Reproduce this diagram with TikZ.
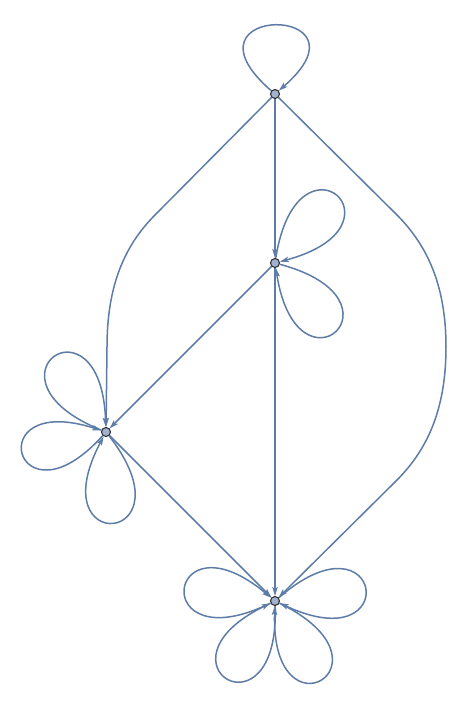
\documentclass[tikz,border=0pt]{standalone}
\usetikzlibrary{arrows.meta,backgrounds}
\definecolor{edgec}{RGB}{94,124,168}
\definecolor{vfill}{RGB}{160,178,205}
\definecolor{vdraw}{RGB}{50,50,55}
\tikzset{
  vert/.style={circle,inner sep=0pt,minimum size=9pt,fill=vfill,draw=vdraw,line width=1.1pt},
  edge/.style={draw=edgec,line width=1.5pt,-{Stealth[length=9pt,width=5.5pt,inset=2pt]}},
  petal/.style={edge,distance=138pt},
}
\begin{document}
\begin{tikzpicture}[x=1pt,y=1pt]
\useasboundingbox (0,0) rectangle (457,705);
\node[vert] (A) at (275,611) {};
\node[vert] (B) at (275,442) {};
\node[vert] (C) at (106,273) {};
\node[vert] (D) at (275,104) {};
\coordinate (c1) at (155,490);
\coordinate (c2) at (107,358);
\coordinate (d1) at (397,490);
\coordinate (d2) at (446,358);
\coordinate (d3) at (397,225);
\begin{pgfonlayer}{background}
% straight edges
\draw[edge] (A) -- (B);
\draw[edge] (B) -- (C);
\draw[edge] (B) -- (D);
\draw[edge] (C) -- (D);
% curved edges
\draw[edge] (A) -- (c1) .. controls (122,457) and (107,415) .. (c2) -- (C);
\draw[edge] (A) -- (d1) .. controls (430,457) and (446,415) .. (d2)
   .. controls (446,300) and (430,258) .. (d3) -- (D);
% self loops
\draw[edge] (A) to[out=139,in=41,distance=133pt] (A);
\draw[petal] (B) to[out=81,in=15] (B);
\draw[petal] (B) to[out=-15,in=-81] (B);
\draw[petal] (C) to[out=158,in=92] (C);
\draw[petal,distance=130pt] (C) to[out=228,in=162] (C);
\draw[petal] (C) to[out=308,in=242] (C);
\draw[petal] (D) to[out=206,in=140] (D);
\draw[petal] (D) to[out=41,in=-25] (D);
\draw[petal] (D) to[out=272,in=206] (D);
\draw[petal] (D) to[out=334,in=268] (D);
\end{pgfonlayer}
\end{tikzpicture}
\end{document}
